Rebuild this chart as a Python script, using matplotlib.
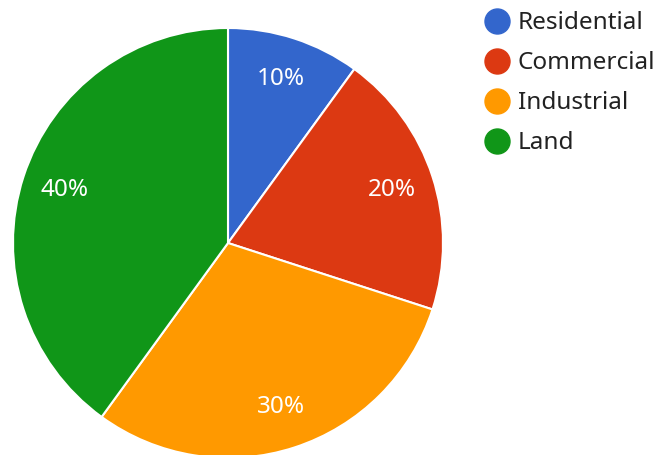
import matplotlib
matplotlib.use("Agg")
import matplotlib.pyplot as plt
from matplotlib.lines import Line2D

plt.rcParams['font.family'] = ['Noto Sans', 'DejaVu Sans']

categories = ["Residential", "Commercial", "Industrial", "Land"]
values = [10, 20, 30, 40]
colors = ["#3366cc", "#dc3912", "#ff9900", "#109618"]

fig = plt.figure(figsize=(6.56, 4.55), dpi=100)
# pie centre at (228, 243) px, radius 215 px
ax = fig.add_axes([13 / 656, -3 / 455, 430 / 656, 430 / 455])

wedges, texts, autotexts = ax.pie(
    values, colors=colors, startangle=90, counterclock=False,
    autopct="%d%%", pctdistance=0.8, radius=1.0,
    wedgeprops=dict(edgecolor="white", linewidth=1.5),
    textprops=dict(color="white", fontsize=17.5))
ax.set_xlim(-1, 1)
ax.set_ylim(-1, 1)
ax.set_aspect("equal")

handles = [Line2D([], [], marker="o", linestyle="none", markersize=18,
                  markerfacecolor=c, markeredgecolor=c) for c in colors]
fig.legend(handles, categories, loc="upper left",
           bbox_to_anchor=(471 / 656, 1.0 + 6 / 455), frameon=False,
           fontsize=17.5, labelcolor="#222222", handlelength=0.75,
           handletextpad=0.48, labelspacing=0.66, borderpad=0.2)

fig.savefig("out.png", dpi=100)
